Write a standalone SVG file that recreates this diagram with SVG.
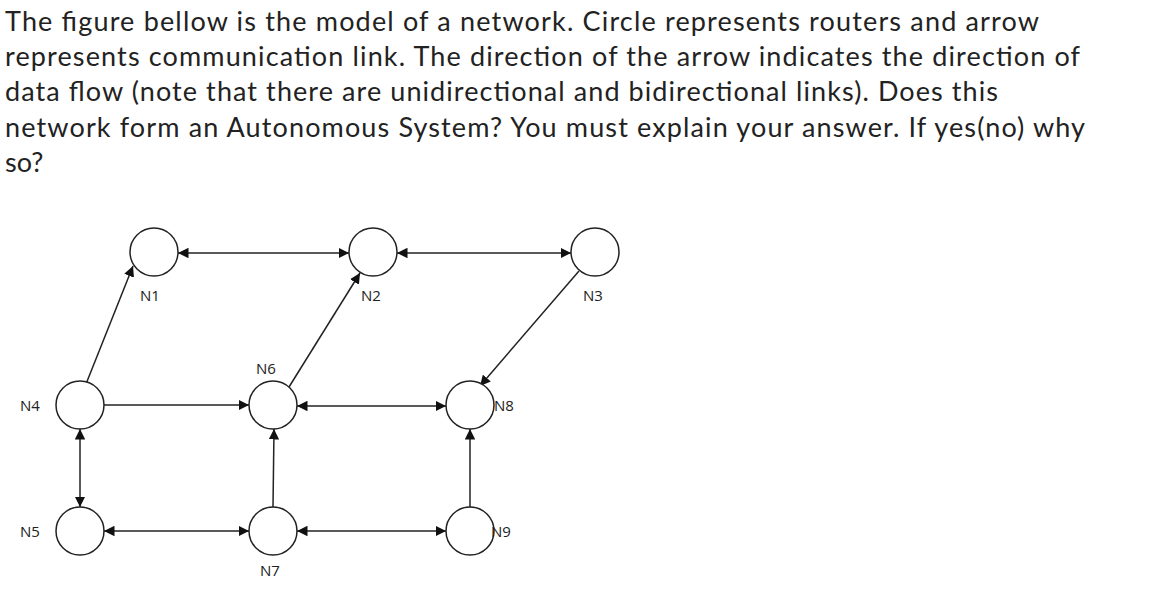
<svg xmlns="http://www.w3.org/2000/svg" width="1170" height="601" viewBox="0 0 1170 601">
<style>
.q{font-family:Lato,"Open Sans",sans-serif;font-size:27px;fill:#222}
.n{fill:#fff;stroke:#222;stroke-width:1.5}
.l{font-family:"Open Sans","DejaVu Sans",sans-serif;font-size:15px;fill:#222}
.c line{stroke:#222;stroke-width:1.5}
</style>
<defs><marker id="a" viewBox="0 0 10 10" refX="10" refY="5" markerWidth="7" markerHeight="7" orient="auto-start-reverse"><path d="M0,0L10,5L0,10z" fill="#111"/></marker></defs>
<rect width="1170" height="601" fill="#fff"/>
<text class="q" x="5" y="31" textLength="1034" lengthAdjust="spacing">The figure bellow is the model of a network.  Circle represents routers and arrow</text>
<text class="q" x="5" y="66" textLength="1075" lengthAdjust="spacing">represents communication link.  The direction of the arrow indicates the direction of</text>
<text class="q" x="5" y="101" textLength="993" lengthAdjust="spacing">data flow (note that there are unidirectional and bidirectional links).  Does this</text>
<text class="q" x="5" y="137" textLength="1080" lengthAdjust="spacing">network form an Autonomous System? You must explain your answer. If yes(no) why</text>
<text class="q" x="5" y="172">so?</text>
<g class="c">
<line x1="178" y1="253" x2="349" y2="253" marker-start="url(#a)" marker-end="url(#a)"/>
<line x1="397" y1="253" x2="571" y2="253" marker-start="url(#a)" marker-end="url(#a)"/>
<line x1="86" y1="384" x2="133" y2="266" marker-end="url(#a)"/>
<line x1="289" y1="387" x2="360" y2="273" marker-end="url(#a)"/>
<line x1="579" y1="271" x2="480" y2="386" marker-end="url(#a)"/>
<line x1="104" y1="405" x2="249" y2="405" marker-end="url(#a)"/>
<line x1="297" y1="406" x2="446" y2="406" marker-start="url(#a)" marker-end="url(#a)"/>
<line x1="80" y1="429" x2="80" y2="507" marker-start="url(#a)" marker-end="url(#a)"/>
<line x1="273" y1="507" x2="274" y2="429" marker-end="url(#a)"/>
<line x1="470" y1="507" x2="470" y2="429" marker-end="url(#a)"/>
<line x1="104" y1="531" x2="249" y2="531" marker-start="url(#a)" marker-end="url(#a)"/>
<line x1="297" y1="531" x2="446" y2="531" marker-start="url(#a)" marker-end="url(#a)"/>
</g>
<g id="N1"><circle class="n" cx="154" cy="252" r="24"/><text class="l" x="140" y="301">N1</text></g>
<g id="N2"><circle class="n" cx="373" cy="252" r="24"/><text class="l" x="361" y="301">N2</text></g>
<g id="N3"><circle class="n" cx="595" cy="252" r="24"/><text class="l" x="583" y="301">N3</text></g>
<g id="N4"><circle class="n" cx="80" cy="405" r="24"/><text class="l" x="20" y="411">N4</text></g>
<g id="N6"><circle class="n" cx="273" cy="405" r="24"/><text class="l" x="256" y="374">N6</text></g>
<g id="N8"><circle class="n" cx="470" cy="405" r="24"/><text class="l" x="494" y="411">N8</text></g>
<g id="N5"><circle class="n" cx="80" cy="531" r="24"/><text class="l" x="20" y="537">N5</text></g>
<g id="N7"><circle class="n" cx="273" cy="531" r="24"/><text class="l" x="260" y="576">N7</text></g>
<g id="N9"><circle class="n" cx="470" cy="531" r="24"/><text class="l" x="491" y="537">N9</text></g>
</svg>
